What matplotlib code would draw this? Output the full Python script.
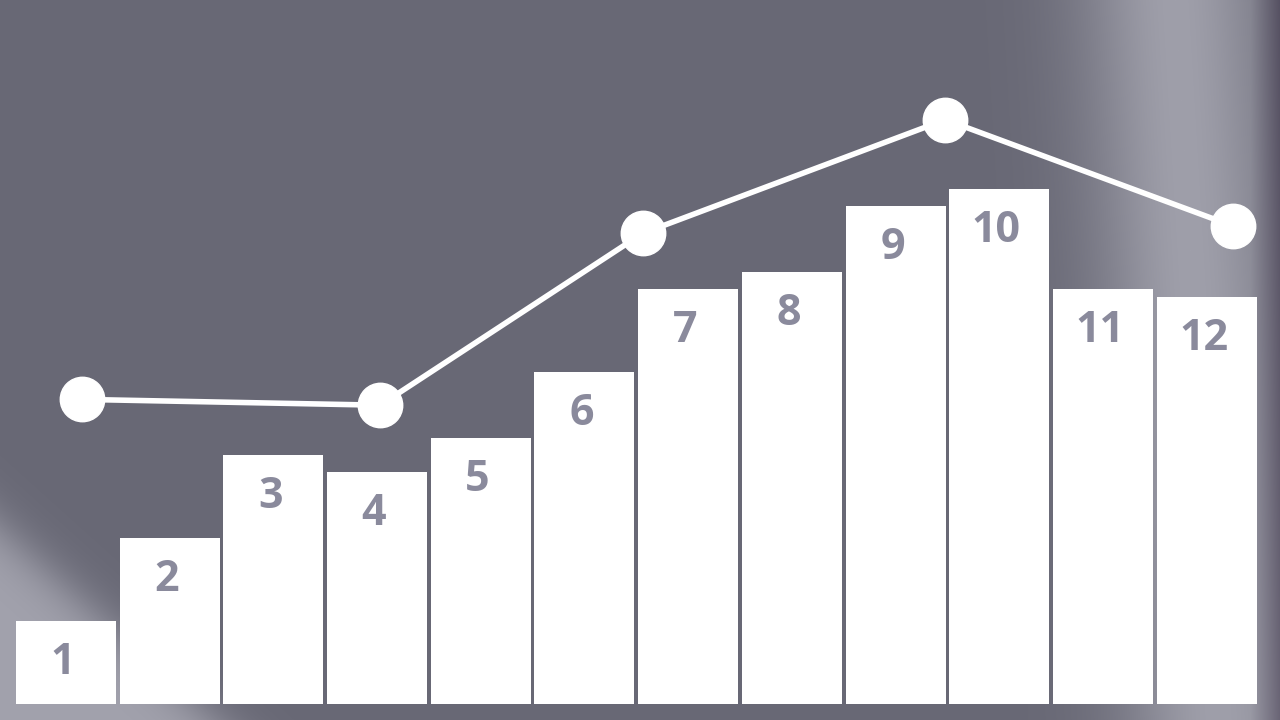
import numpy as np
import matplotlib
matplotlib.use("Agg")
import matplotlib.pyplot as plt

# bar values (units: one step = bar 1 height)
bar_labels = ["1", "2", "3", "4", "5", "6", "7", "8", "9", "10", "11", "12"]
bar_values = [1.0, 2.0, 3.0, 2.8, 3.2, 4.0, 5.0, 5.2, 6.0, 6.2, 5.0, 4.9]

# line points, x in bar-index units
line_x = [0.15, 3.03, 5.56, 8.48, 11.25]
line_y = [3.67, 3.60, 5.67, 7.04, 5.76]

label_color = "#8a8a9c"

# background: grey photo-like gradient
W, H = 1280, 720
u, v = np.meshgrid(np.arange(W), np.arange(H))
base = np.array([104, 104, 117], dtype=float)
img = np.ones((H, W, 3)) * base

# light band on the right
cx = 1175 + 0.06 * v
band = np.exp(-((u - cx) / 95.0) ** 2)
img += band[..., None] * np.array([55, 55, 53])
# darker edge at far right
edge = np.clip((u - 1250) / 30.0, 0, 1)
img -= edge[..., None] * np.array([35, 40, 35])

# light corner bottom-left
d = v - (528 + 0.9 * u)
corner = 1 / (1 + np.exp(-d / 18.0))
img += corner[..., None] * np.array([58, 58, 56])
img = np.clip(img, 0, 255) / 255.0

fig = plt.figure(figsize=(12.8, 7.2), dpi=100)
ax_bg = fig.add_axes([0, 0, 1, 1])
ax_bg.imshow(img, aspect="auto", extent=[0, 1, 0, 1])
ax_bg.axis("off")

ax = fig.add_axes([0, 0, 1, 1])
ax.patch.set_alpha(0)
x = np.arange(len(bar_values))
ax.bar(x, bar_values, width=0.964, color="white", zorder=2)
for xi, val, lab in zip(x, bar_values, bar_labels):
    ax.text(xi - 0.03, val - 0.5, lab, ha="center", va="center",
            fontsize=31, fontweight="bold", color=label_color,
            family="Open Sans", zorder=3)

ax.plot(line_x, line_y, color="white", lw=4, marker="o",
        markersize=32, markerfacecolor="white", markeredgecolor="white",
        zorder=4)

ax.set_xlim(-0.636, 11.707)
ax.set_ylim(-0.193, 8.482)
ax.axis("off")

fig.savefig("out.png", dpi=100)
